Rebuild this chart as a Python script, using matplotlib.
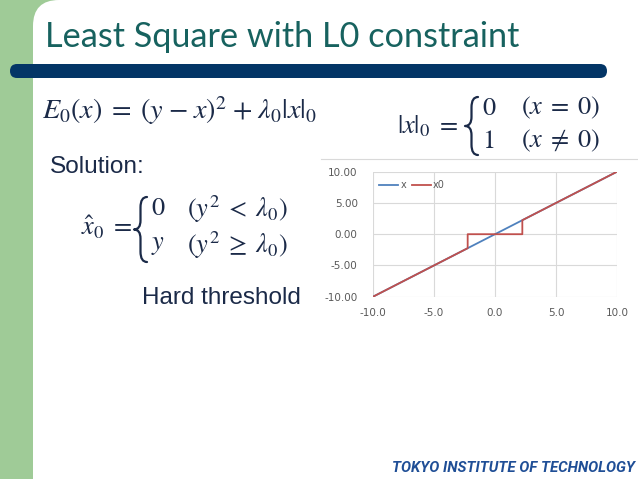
import matplotlib.pyplot as plt
from matplotlib.patches import FancyBboxPatch, Rectangle, PathPatch
from matplotlib.path import Path

# chart data (lambda0 = 5 -> threshold at sqrt(5) ~ 2.24)
x_pts = [-10.0, 10.0]
x_vals = [-10.0, 10.0]
x0_pts = [-10.0, -2.24, -2.24, 2.24, 2.24, 10.0]
x0_vals = [-10.0, -2.24, 0.0, 0.0, 2.24, 10.0]
x_ticks = [-10, -5, 0, 5, 10]
y_ticks = [-10, -5, 0, 5, 10]

plt.rcParams['mathtext.fontset'] = 'stix'

W, H = 638, 479
fig = plt.figure(figsize=(W / 100, H / 100), dpi=100)
fig.patch.set_facecolor('#9fcb97')

bg = fig.add_axes([0, 0, 1, 1])
bg.set_xlim(0, W)
bg.set_ylim(H, 0)
bg.axis('off')


def brace(ax, x0, y0, y1, w, color):
    # left curly brace drawn in pixel coords (y grows downward)
    m = (y0 + y1) / 2
    xm = x0 + w * 0.5
    verts = [(x0 + w, y0), (xm, y0), (xm, y0 + w * 0.8),
             (xm, m - w * 0.7),
             (xm, m), (x0, m),
             (xm, m), (xm, m + w * 0.7),
             (xm, y1 - w * 0.8),
             (xm, y1), (x0 + w, y1)]
    codes = [Path.MOVETO, Path.CURVE3, Path.CURVE3,
             Path.LINETO,
             Path.CURVE3, Path.CURVE3,
             Path.CURVE3, Path.CURVE3,
             Path.LINETO,
             Path.CURVE3, Path.CURVE3]
    ax.add_patch(PathPatch(Path(verts, codes), fc='none', ec=color, lw=1.6,
                           capstyle='round', joinstyle='round'))


# white slide area with rounded top-left corner
bg.add_patch(FancyBboxPatch((33, 0), 700, 600, boxstyle='round,pad=0,rounding_size=26',
                            fc='white', ec='none'))
bg.add_patch(Rectangle((33, 200), 700, 400, fc='white', ec='none'))
# dark blue bar under title
bg.add_patch(FancyBboxPatch((10, 64), 597, 14, boxstyle='round,pad=0,rounding_size=7',
                            fc='#033566', ec='none'))

bg.text(45, 37, 'Least Square with L0 constraint', family='Lato', fontsize=24.7,
        color='#17625f', va='center', ha='left')

eqc = '#1b2a48'
fs = 19
bg.text(42, 111, r'$E_0(x)\;{=}\;(y\;{-}\;x)^2\;{+}\;\lambda_0|x|_0$', fontsize=20.3, color=eqc,
        va='center', ha='left')

# |x|_0 piecewise
bg.text(397, 126, r'$|x|_0\;{=}$', fontsize=fs, color=eqc, va='center', ha='left')
brace(bg, 465, 97, 155, 13, eqc)
bg.text(482, 108, r'$0$', fontsize=fs, color=eqc, va='center', ha='left')
bg.text(521, 108, r'$(x\;{=}\;0)$', fontsize=fs, color=eqc, va='center', ha='left')
bg.text(482, 141, r'$1$', fontsize=fs, color=eqc, va='center', ha='left')
bg.text(521, 141, r'$(x\;{\neq}\;0)$', fontsize=fs, color=eqc, va='center', ha='left')

bg.text(50, 167, 'Solution:', family='Liberation Sans', fontsize=17.6, color=eqc,
        va='center', ha='left')

# hard threshold solution
bg.text(81, 228, r'$\hat{x}_0\;{=}$', fontsize=fs, color=eqc, va='center', ha='left')
brace(bg, 134, 197, 262, 13, eqc)
bg.text(151, 208, r'$0$', fontsize=fs, color=eqc, va='center', ha='left')
bg.text(187, 209, r'$(y^2\;{<}\;\lambda_0)$', fontsize=fs, color=eqc, va='center', ha='left')
bg.text(151, 244, r'$y$', fontsize=fs, color=eqc, va='center', ha='left')
bg.text(187, 245, r'$(y^2\;{\geq}\;\lambda_0)$', fontsize=fs, color=eqc, va='center', ha='left')

bg.text(142, 298, 'Hard threshold', family='Liberation Sans', fontsize=17.5, color=eqc,
        va='center', ha='left')

bg.text(635, 468, 'TOKYO INSTITUTE OF TECHNOLOGY', family=['Roboto', 'DejaVu Sans'],
        fontsize=10.8, fontweight='bold', style='italic', color='#1f4e96', va='center', ha='right')

# chart border line (top)
bg.plot([321, 638], [159, 159], color='#d9d9d9', lw=0.8)

# the chart
ax = fig.add_axes([373 / W, 1 - 296.7 / H, (617 - 373) / W, (296.7 - 171.7) / H])
ax.set_facecolor('none')
ax.plot(x_pts, x_vals, color='#4f81bd', lw=1.3, label='x')
ax.plot(x0_pts, x0_vals, color='#c0504d', lw=1.3, label='x0')
ax.set_xlim(-10, 10)
ax.set_ylim(-10, 10)
ax.set_xticks(x_ticks)
ax.set_yticks(y_ticks)
ax.set_xticklabels(['%.1f' % t for t in x_ticks])
ax.set_yticklabels(['%.2f' % t for t in y_ticks])
ax.grid(True, color='#d9d9d9', lw=0.8)
ax.set_axisbelow(True)
for s in ax.spines.values():
    s.set_visible(False)
ax.tick_params(axis='y', length=0, labelsize=7.5, labelcolor='#595959', pad=11)
ax.tick_params(axis='x', length=0, labelsize=7.5, labelcolor='#595959', pad=8)
ax.legend(loc='upper left', ncol=2, frameon=False, fontsize=7, handlelength=2.0,
          columnspacing=0.6, handletextpad=0.2, borderaxespad=0.2,
          labelcolor='#595959', bbox_to_anchor=(0.0, 0.98))

fig.savefig('out.png', dpi=100)
